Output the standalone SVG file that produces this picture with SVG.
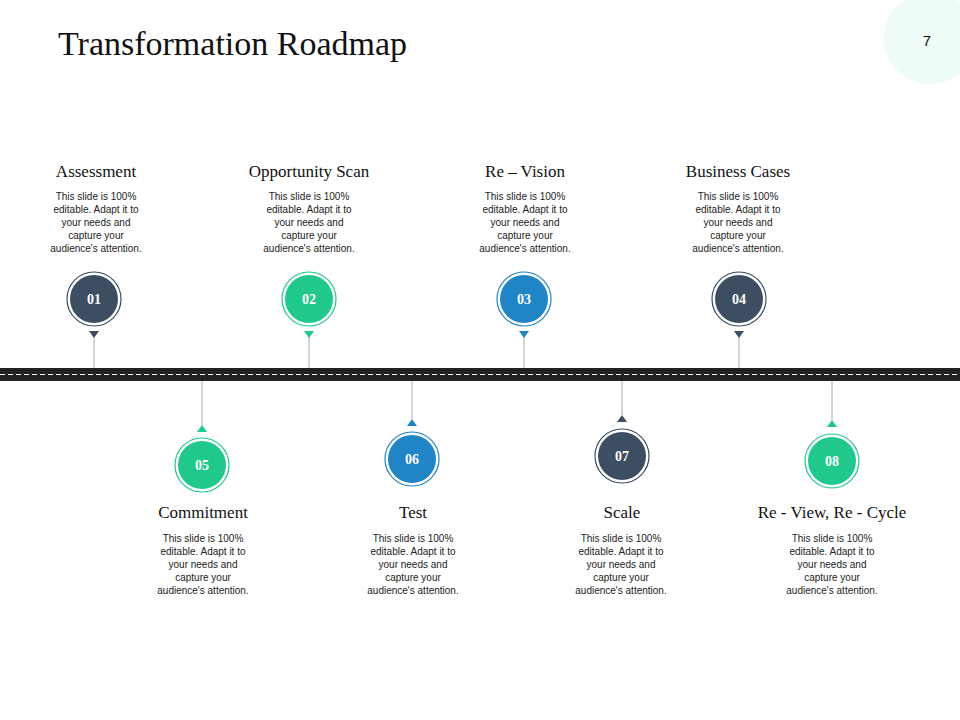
<svg xmlns="http://www.w3.org/2000/svg" width="960" height="720" viewBox="0 0 960 720">
<style>
.t{font-family:"Liberation Serif",serif;font-size:17px;fill:#111;text-anchor:middle}
.b{font-family:"Liberation Sans",sans-serif;font-size:10px;fill:#222;text-anchor:middle}
.n{font-family:"Liberation Serif",serif;font-size:14px;font-weight:bold;fill:#fff;text-anchor:middle}
.ln{stroke:#aaa;stroke-width:1}
.dk{fill:#3d4e63}.gr{fill:#20c98b}.bl{fill:#1f85c7}
.rg{fill:none;stroke-width:1.2}
</style>
<rect width="960" height="720" fill="#fff"/>
<circle cx="930" cy="38" r="46" fill="#eefbf7"/>
<text x="927" y="46" font-family="Liberation Sans,sans-serif" font-size="15" text-anchor="middle" fill="#111">7</text>
<text x="58" y="55" font-family="Liberation Serif,serif" font-size="34" fill="#111">Transformation Roadmap</text>
<g id="road"><rect x="0" y="368" width="960" height="13" fill="#222"/><line x1="0" y1="374.5" x2="960" y2="374.5" stroke="#fff" stroke-width="1" stroke-dasharray="5,3"/></g>
<g id="connectors">
<line class="ln" x1="94" y1="337" x2="94" y2="368"/><line class="ln" x1="309" y1="337" x2="309" y2="368"/><line class="ln" x1="524" y1="337" x2="524" y2="368"/><line class="ln" x1="739" y1="337" x2="739" y2="368"/>
<line class="ln" x1="202" y1="381" x2="202" y2="425"/><line class="ln" x1="412" y1="381" x2="412" y2="419"/><line class="ln" x1="622" y1="381" x2="622" y2="415"/><line class="ln" x1="832" y1="381" x2="832" y2="420"/>
</g>
<g id="n1"><circle cx="94" cy="299" r="24" class="dk"/><circle cx="94" cy="299" r="27" class="rg" stroke="#3d4e63"/><path d="M89,331h10l-5,7z" class="dk"/><text class="n" x="94" y="304">01</text>
<text class="t" x="96" y="177">Assessment</text><text class="b" x="96" y="200">This slide is 100%</text><text class="b" x="96" y="213">editable.  Adapt it to</text><text class="b" x="96" y="226">your needs and</text><text class="b" x="96" y="239">capture your</text><text class="b" x="96" y="252">audience's attention.</text></g>
<g id="n2"><circle cx="309" cy="299" r="24" class="gr"/><circle cx="309" cy="299" r="27" class="rg" stroke="#20c98b"/><path d="M304,331h10l-5,7z" class="gr"/><text class="n" x="309" y="304">02</text>
<text class="t" x="309" y="177">Opportunity Scan</text><text class="b" x="309" y="200">This slide is 100%</text><text class="b" x="309" y="213">editable.  Adapt it to</text><text class="b" x="309" y="226">your needs and</text><text class="b" x="309" y="239">capture your</text><text class="b" x="309" y="252">audience's attention.</text></g>
<g id="n3"><circle cx="524" cy="299" r="24" class="bl"/><circle cx="524" cy="299" r="27" class="rg" stroke="#1f85c7"/><path d="M519,331h10l-5,7z" class="bl"/><text class="n" x="524" y="304">03</text>
<text class="t" x="525" y="177">Re – Vision</text><text class="b" x="525" y="200">This slide is 100%</text><text class="b" x="525" y="213">editable.  Adapt it to</text><text class="b" x="525" y="226">your needs and</text><text class="b" x="525" y="239">capture your</text><text class="b" x="525" y="252">audience's attention.</text></g>
<g id="n4"><circle cx="739" cy="299" r="24" class="dk"/><circle cx="739" cy="299" r="27" class="rg" stroke="#3d4e63"/><path d="M734,331h10l-5,7z" class="dk"/><text class="n" x="739" y="304">04</text>
<text class="t" x="738" y="177">Business Cases</text><text class="b" x="738" y="200">This slide is 100%</text><text class="b" x="738" y="213">editable.  Adapt it to</text><text class="b" x="738" y="226">your needs and</text><text class="b" x="738" y="239">capture your</text><text class="b" x="738" y="252">audience's attention.</text></g>
<g id="n5"><circle cx="202" cy="465" r="24" class="gr"/><circle cx="202" cy="465" r="27" class="rg" stroke="#20c98b"/><path d="M197,432h10l-5,-7z" class="gr"/><text class="n" x="202" y="470">05</text>
<text class="t" x="203" y="518">Commitment</text><text class="b" x="203" y="542">This slide is 100%</text><text class="b" x="203" y="555">editable.  Adapt it to</text><text class="b" x="203" y="568">your needs and</text><text class="b" x="203" y="581">capture your</text><text class="b" x="203" y="594">audience's attention.</text></g>
<g id="n6"><circle cx="412" cy="459" r="24" class="bl"/><circle cx="412" cy="459" r="27" class="rg" stroke="#1f85c7"/><path d="M407,426h10l-5,-7z" class="bl"/><text class="n" x="412" y="464">06</text>
<text class="t" x="413" y="518">Test</text><text class="b" x="413" y="542">This slide is 100%</text><text class="b" x="413" y="555">editable.  Adapt it to</text><text class="b" x="413" y="568">your needs and</text><text class="b" x="413" y="581">capture your</text><text class="b" x="413" y="594">audience's attention.</text></g>
<g id="n7"><circle cx="622" cy="456" r="24" class="dk"/><circle cx="622" cy="456" r="27" class="rg" stroke="#3d4e63"/><path d="M617,422h10l-5,-7z" class="dk"/><text class="n" x="622" y="461">07</text>
<text class="t" x="622" y="518">Scale</text><text class="b" x="621" y="542">This slide is 100%</text><text class="b" x="621" y="555">editable.  Adapt it to</text><text class="b" x="621" y="568">your needs and</text><text class="b" x="621" y="581">capture your</text><text class="b" x="621" y="594">audience's attention.</text></g>
<g id="n8"><circle cx="832" cy="461" r="24" class="gr"/><circle cx="832" cy="461" r="27" class="rg" stroke="#20c98b"/><path d="M827,427h10l-5,-7z" class="gr"/><text class="n" x="832" y="466">08</text>
<text class="t" x="832" y="518">Re - View, Re - Cycle</text><text class="b" x="832" y="542">This slide is 100%</text><text class="b" x="832" y="555">editable.  Adapt it to</text><text class="b" x="832" y="568">your needs and</text><text class="b" x="832" y="581">capture your</text><text class="b" x="832" y="594">audience's attention.</text></g>
</svg>
